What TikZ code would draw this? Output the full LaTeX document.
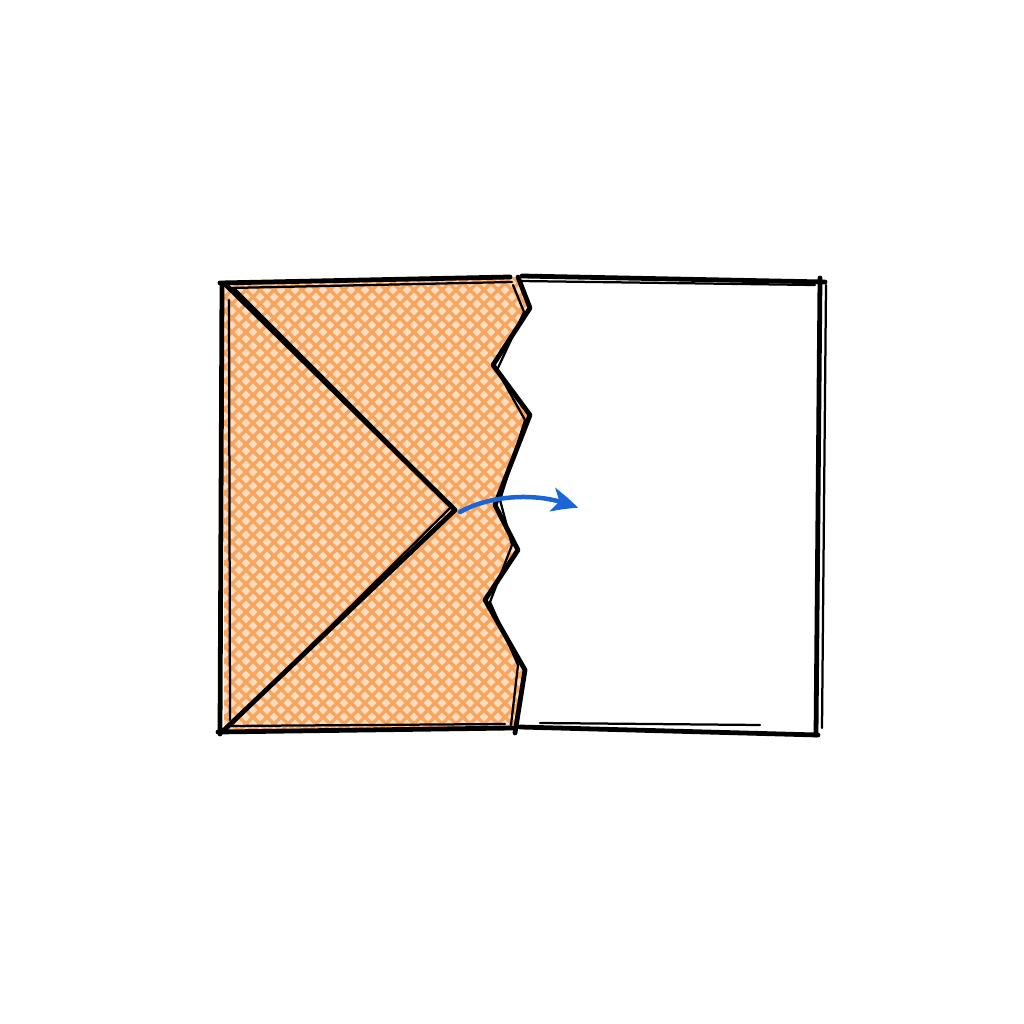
\documentclass[tikz,border=0pt]{standalone}
\usetikzlibrary{arrows.meta,bending}
\definecolor{hatch}{HTML}{F8A55E}
\definecolor{hatchbg}{HTML}{FDDCBF}
\definecolor{arrowblue}{HTML}{1A66D6}
\tikzset{
  ink/.style={draw=black, line width=3.4pt, line cap=round, line join=round},
  inkthin/.style={draw=black, line width=1.6pt, line cap=round, line join=round},
  hatchline/.style={draw=hatch, line width=2.3pt},
}
\begin{document}
\begin{tikzpicture}[x=0.25mm,y=-0.25mm]
\useasboundingbox[fill=white] (0,0) rectangle (1024,1024);
% orange region
\def\region{(224,281) -- (518,277) -- (530,308) -- (493,365) -- (530,415) -- (495,505) -- (518,550) -- (485,600) -- (525,670) -- (515,730) -- (224,730) -- cycle}
\fill[hatchbg] \region;
\begin{scope}
\clip \region;
\foreach \i in {-600,-586,...,700} {
  \draw[hatchline] (\i+200,260) -- (\i+700,760);
  \draw[hatchline] (\i+400,260) -- (\i-100,760);
}
\end{scope}
% outer rectangle (sketchy)
\draw[ink] (220,283) -- (510,277);
\draw[inkthin] (230,288) -- (512,282);
\draw[ink] (522,276) -- (825,282);
\draw[inkthin] (520,281) -- (815,285);
\draw[ink] (820,278) -- (816,735);
\draw[inkthin] (826,285) -- (822,728);
\draw[ink] (218,732) -- (512,728);
\draw[inkthin] (228,726) -- (505,724);
\draw[ink] (520,727) -- (818,735);
\draw[inkthin] (540,723) -- (760,725);
\draw[ink] (222,284) -- (220,734);
\draw[inkthin] (229,300) -- (230,720);
% jagged edge
\draw[ink] (518,277) -- (530,308) -- (493,365) -- (530,415) -- (495,505) -- (518,550) -- (485,600) -- (525,670) -- (515,733);
\draw[inkthin] (513,285) -- (524,312) -- (497,370) -- (525,420) -- (500,500) -- (512,545) -- (490,602) -- (518,665) -- (511,725);
% V shape
\coordinate (tip) at (455,510);
\draw[ink] (225,284) -- (tip) -- (222,732);
\draw[inkthin] (234,288) -- (452,506) -- (232,724);
% blue arrow
\coordinate (astart) at (460,512);
\coordinate (aend) at (578,508);
\draw[draw=arrowblue, line width=3.2pt, line cap=round, -{Stealth[length=19pt,width=17pt,inset=5pt,bend]}] (astart) .. controls (488,496) and (538,490) .. (aend);
\end{tikzpicture}
\end{document}
